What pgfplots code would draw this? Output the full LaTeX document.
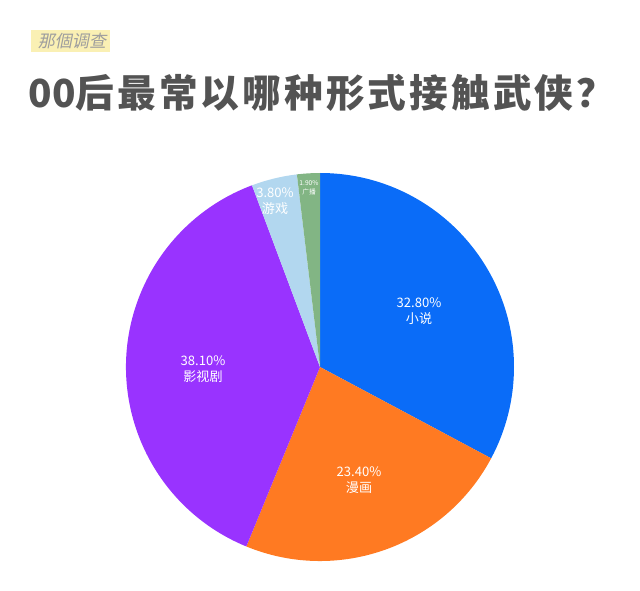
\documentclass[border=0pt]{standalone}
\usepackage{pgfplots}
\pgfplotsset{compat=1.18}
\usepackage{fontspec}
\newfontfamily\cjk{Noto Sans CJK SC}
\newfontfamily\cjkslant[FakeSlant=0.2]{Noto Sans CJK SC}
\setmainfont{Noto Sans CJK SC}
\definecolor{cBlue}{HTML}{0A6CF8}
\definecolor{cOrange}{HTML}{FF7A22}
\definecolor{cPurple}{HTML}{9933FF}
\definecolor{cLight}{HTML}{B2D7EF}
\definecolor{cGreen}{HTML}{82B584}
\definecolor{cTitle}{HTML}{535353}
\definecolor{cTag}{HTML}{FAF0B4}
\begin{document}
\begin{tikzpicture}
\begin{axis}[
  scale only axis, width=480pt, height=442.5pt,
  xmin=0, xmax=640, ymin=0, ymax=590,
  hide axis, clip=false]
\path (axis cs:0,0) rectangle (axis cs:640,590);
% pie: centre (320,223) px, radius 194 px = 145.5pt
% values in percent: 32.80 小说, 23.40 漫画, 38.10 影视剧, 3.80 游戏, 1.90 广播
% start angle 90, clockwise, 3.6 degrees per percent
\def\R{145.5pt}
\def\slice#1#2#3{% start, end, colour
  \fill[#3] (axis cs:320,223) -- ++(#1:\R) arc[start angle=#1, end angle=#2, radius=\R] -- cycle;}
\slice{90}{-28.08}{cBlue}        % 32.80 小说
\slice{-28.08}{-112.32}{cOrange} % 23.40 漫画
\slice{-112.32}{-249.48}{cPurple}% 38.10 影视剧
\slice{110.52}{96.84}{cLight}    % 3.80 游戏
\slice{96.84}{90}{cGreen}        % 1.90 广播
% labels
\tikzset{lab/.style={white, align=center, font=\cjk\fontsize{9.8}{11.8}\selectfont}}
\node[lab] at (axis cs:419,279) {32.80\%\\小说};
\node[lab] at (axis cs:359,110) {23.40\%\\漫画};
\node[lab] at (axis cs:203,220.5) {38.10\%\\影视剧};
\node[lab] at (axis cs:275,389) {3.80\%\\游戏};
\node[white, align=center, font=\cjk\fontsize{5}{6.6}\selectfont] at (axis cs:309,402.5) {1.90\%\\广播};
% tag and title
\fill[cTag] (axis cs:31,538) rectangle (axis cs:110,560);
\node[text=black!38, font=\cjkslant\fontsize{12.8}{14}\selectfont] at (axis cs:72,549) {那個调查};
\node[text=cTitle, anchor=west, font=\cjk\bfseries\fontsize{29}{32}\selectfont] at (axis cs:24,497) {00后\hspace{2.3pt}最\hspace{2.3pt}常\hspace{2.3pt}以\hspace{2.3pt}哪\hspace{2.3pt}种\hspace{2.3pt}形\hspace{2.3pt}式\hspace{2.3pt}接\hspace{2.3pt}触\hspace{2.3pt}武\hspace{2.3pt}侠\hspace{2.3pt}？};
\end{axis}
\end{tikzpicture}
\end{document}
